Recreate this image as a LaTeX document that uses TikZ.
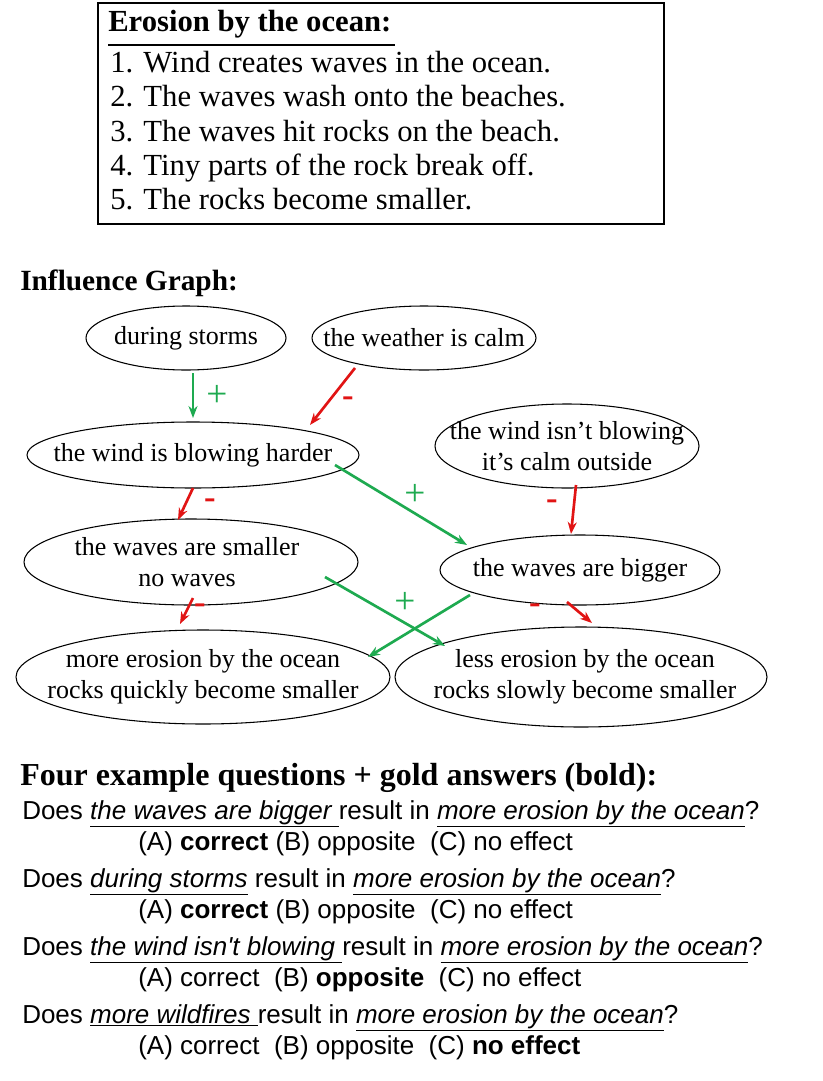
\documentclass[tikz,border=0pt]{standalone}
\usepackage{fontspec}
\setmainfont{Liberation Serif}
\newfontfamily\arialf{Liberation Sans}
\usetikzlibrary{shapes.geometric,arrows.meta}
\definecolor{gr}{RGB}{30,170,80}
\definecolor{rd}{RGB}{225,20,20}
\begin{document}
\begin{tikzpicture}[x=0.75pt,y=-0.75pt,
  el/.style={inner sep=0pt,font=\fontsize{19.5}{23}\selectfont,align=center},
  ol/.style={thick},
  ga/.style={-{Stealth[length=9pt]},draw=gr,line width=2pt},
  ra/.style={-{Stealth[length=9pt]},draw=rd,line width=2pt},
  gl/.style={text=gr,font=\fontsize{28}{28}\selectfont},
  rl/.style={text=rd,font=\bfseries\fontsize{26}{26}\selectfont},
  q/.style={anchor=base west,inner sep=0pt,font=\arialf\fontsize{19.5}{22}\selectfont}]
\useasboundingbox (0,0) rectangle (822,1081);
\draw[thick] (98,3) rectangle (664,224);
\node[anchor=base west,inner sep=0pt,font=\bfseries\fontsize{23}{24}\selectfont] (h1) at (108,32) {Erosion by the ocean:};
\draw[thick] (108,45) -- (395,45);
\foreach \t [count=\i] in {1. Wind creates waves in the ocean.,2. The waves wash onto the beaches.,3. The waves hit rocks on the beach.,4. Tiny parts of the rock break off.,5. The rocks become smaller.}
  \node[anchor=base west,inner sep=0pt,font=\fontsize{23}{24}\selectfont] at (110,39+\i*34) {\t};
\node[anchor=base west,inner sep=0pt,font=\bfseries\fontsize{22}{24}\selectfont] (h2) at (20,290) {Influence Graph:};
\node[el] (a) at (186,338) {during storms};
\draw[ol] (a.center) ellipse [x radius=100, y radius=32];
\node[el] (b) at (424,338) {the weather is calm};
\draw[ol] (b.center) ellipse [x radius=112, y radius=32];
\node[el] (c) at (193,455) {the wind is blowing harder};
\draw[ol] (c.center) ellipse [x radius=166, y radius=33];
\node[el] (d) at (567,446) {the wind isn't blowing\\it's calm outside};
\draw[ol] (d.center) ellipse [x radius=132, y radius=42];
\node[el] (e) at (187,562) {the waves are smaller\\no waves};
\draw[ol] (191,562) ellipse [x radius=167, y radius=43];
\node[el] (f) at (580,570) {the waves are bigger};
\draw[ol] (f.center) ellipse [x radius=140, y radius=35];
\node[el] (g) at (203,677) {more erosion by the ocean\\rocks quickly become smaller};
\draw[ol] (g.center) ellipse [x radius=187, y radius=47];
\node[el] (h) at (585,677) {less erosion by the ocean\\rocks slowly become smaller};
\draw[ol] (581,677) ellipse [x radius=186, y radius=50];
\coordinate (a1) at (193,373); \coordinate (c1) at (193,418);
\draw[ga] (a1) -- (c1); \node[gl] at (217,396) {+};
\coordinate (b1) at (355,368); \coordinate (c2) at (310,425);
\draw[ra] (b1) -- (c2); \node[rl] at (348,402) {-};
\coordinate (c3) at (335,465); \coordinate (f1) at (467,545);
\draw[ga] (c3) -- (f1); \node[gl] at (415,495) {+};
\coordinate (d1) at (576,485); \coordinate (f2) at (571,534);
\draw[ra] (d1) -- (f2); \node[rl] at (552,505) {-};
\coordinate (c4) at (193,488); \coordinate (e1) at (178,520);
\draw[ra] (c4) -- (e1); \node[rl] at (210,504) {-};
\coordinate (e2) at (325,577); \coordinate (h1) at (445,646);
\draw[ga] (e2) -- (h1); \node[gl] at (405,603) {+};
\coordinate (f3) at (470,595); \coordinate (g1) at (368,657);
\draw[ga] (f3) -- (g1);
\coordinate (e3) at (193,598); \coordinate (g2) at (180,624);
\draw[ra] (e3) -- (g2); \node[rl] at (200,609) {-};
\coordinate (f4) at (567,602); \coordinate (h2) at (592,623);
\draw[ra] (f4) -- (h2); \node[rl] at (535,609) {-};
\node[anchor=base west,inner sep=0pt,font=\bfseries\fontsize{24}{24}\selectfont] (h3) at (20,785) {Four example questions + gold answers (bold):};
\node[q] (q1) at (22,819) {Does \underline{\itshape the waves are bigger }result in \underline{\itshape more erosion by the ocean}?};
\node[q] (a1t) at (138,850) {(A) \textbf{correct} (B) opposite\ \ (C) no effect};
\node[q] (q2) at (22,887) {Does \underline{\itshape during storms} result in \underline{\itshape more erosion by the ocean}?};
\node[q] (a2t) at (138,918) {(A) \textbf{correct} (B) opposite\ \ (C) no effect};
\node[q] (q3) at (22,955) {Does \underline{\itshape the wind isn't blowing }result in \underline{\itshape more erosion by the ocean}?};
\node[q] (a3t) at (138,986) {(A) correct\ \ (B) \textbf{opposite}\ \ (C) no effect};
\node[q] (q4) at (22,1023) {Does \underline{\itshape more wildfires }result in \underline{\itshape more erosion by the ocean}?};
\node[q] (a4t) at (138,1054) {(A) correct\ \ (B) opposite\ \ (C) \textbf{no effect}};
\end{tikzpicture}
\end{document}
